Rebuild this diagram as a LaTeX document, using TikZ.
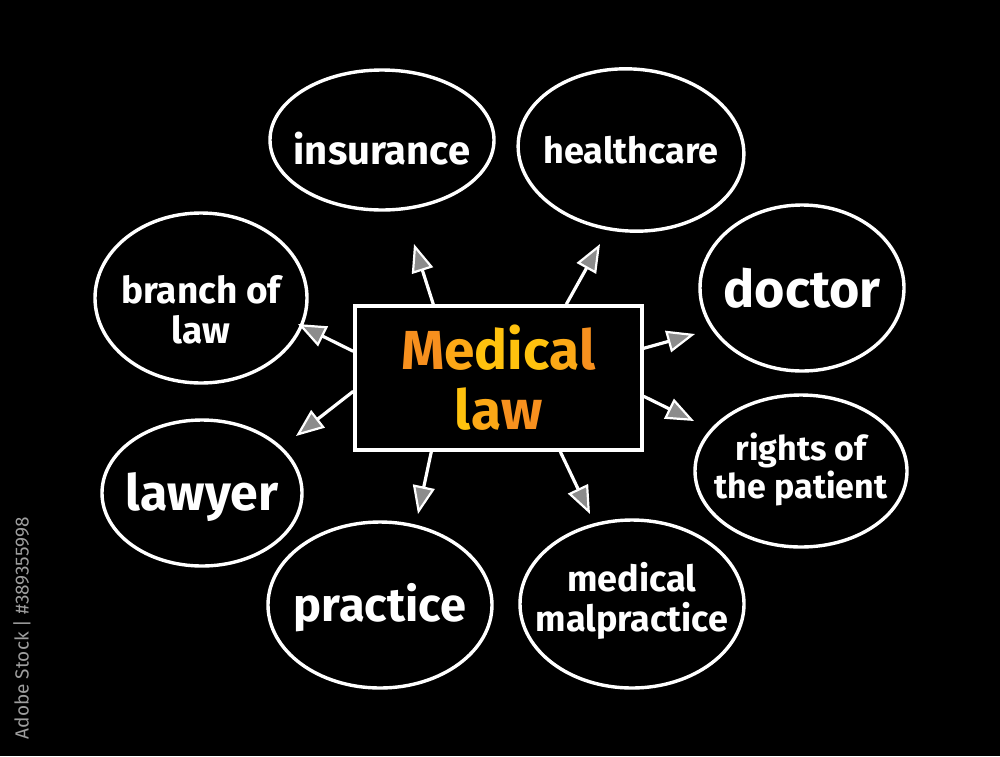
\documentclass[tikz,border=0pt]{standalone}
\usepackage{fontspec}
\setmainfont{Fira Sans}
\usetikzlibrary{arrows.meta,shapes.geometric}
\definecolor{morange}{HTML}{F7901E}
\definecolor{mmid}{HTML}{FCA816}
\definecolor{myel}{HTML}{FFC20E}
\tikzset{
  bub/.style={draw=white, line width=3.4pt, ellipse, inner sep=0pt},
  txt/.style={text=white, align=center, inner sep=0pt, font=\bfseries},
  ctr/.style={draw=white, line width=3.4pt, rectangle, inner sep=0pt, align=center},
  arr/.style={draw=white, line width=3.2pt,
    -{Triangle[length=28pt,width=22pt,fill=black!45,line width=2.2pt]}},
  fs/.style n args={2}{font=\bfseries\fontsize{#1}{#2}\selectfont}
}
\begin{document}
\begin{tikzpicture}[x=1pt,y=-1pt]
\fill[black] (0,0) rectangle (1000,756);
\useasboundingbox (0,0) rectangle (1000,756);

\node[bub, minimum width=224, minimum height=140] (ins) at (382,140) {};
\node[bub, minimum width=226, minimum height=162, rotate=-4] (hc) at (631,150) {};
\node[bub, minimum width=204, minimum height=166] (doc) at (802,288) {};
\node[bub, minimum width=212, minimum height=152] (rig) at (801,471) {};
\node[bub, minimum width=224, minimum height=168] (mal) at (632,604) {};
\node[bub, minimum width=224, minimum height=166] (pra) at (380,605) {};
\node[bub, minimum width=200, minimum height=146] (law) at (202,493) {};
\node[bub, minimum width=212, minimum height=170] (br) at (201,298) {};

\node[txt, fs={40}{42}] (ins-t) at ([yshift=-9]ins.center) {insurance};
\node[txt, fs={36}{40}] (hc-t) at (hc) {healthcare};
\node[txt, fs={52}{54}] (doc-t) at (doc) {doctor};
\node[txt, fs={34}{38}] (rig-t) at ([yshift=2]rig.center) {rights of\\the patient};
\node[txt, fs={36}{40}] (mal-t) at ([yshift=3]mal.center) {medical\\malpractice};
\node[txt, fs={47}{48}] (pra-t) at ([yshift=-3]pra.center) {practice};
\node[txt, fs={50}{52}] (law-t) at ([yshift=-4]law.center) {lawyer};
\node[txt, fs={37}{40}] (br-t) at ([yshift=-12]br.center) {branch of\\law};

\node[ctr, minimum width=287, minimum height=144, fs={55}{60}] (med) at (498.5,378)
  {{\color{morange}M}{\color{mmid}e}{\color{myel}dic}{\color{mmid}a}{\color{morange}l}\\
   {\color{myel}l}{\color{mmid}a}{\color{morange}w}};

\coordinate (t1) at (414,244);
\coordinate (t2) at (600,244);
\coordinate (t3) at (298,324);
\coordinate (t4) at (296,436);
\coordinate (t5) at (695,334);
\coordinate (t6) at (694,421);
\coordinate (t7) at (418,514);
\coordinate (t8) at (590,514);

\draw[arr] ([xshift=80]med.north west) -- (t1);
\draw[arr] ([xshift=213]med.north west) -- (t2);
\draw[arr] ([yshift=-47]med.north west) -- (t3);
\draw[arr] ([yshift=-87]med.north west) -- (t4);
\draw[arr] ([yshift=-44]med.north east) -- (t5);
\draw[arr] ([yshift=-92]med.north east) -- (t6);
\draw[arr] ([xshift=78]med.south west) -- (t7);
\draw[arr] ([xshift=207]med.south west) -- (t8);

\node[rotate=90, text=white!62!black, font=\fontsize{19}{20}\selectfont] (wm) at (22,628) {Adobe Stock | \#389355998};
\end{tikzpicture}
\end{document}
